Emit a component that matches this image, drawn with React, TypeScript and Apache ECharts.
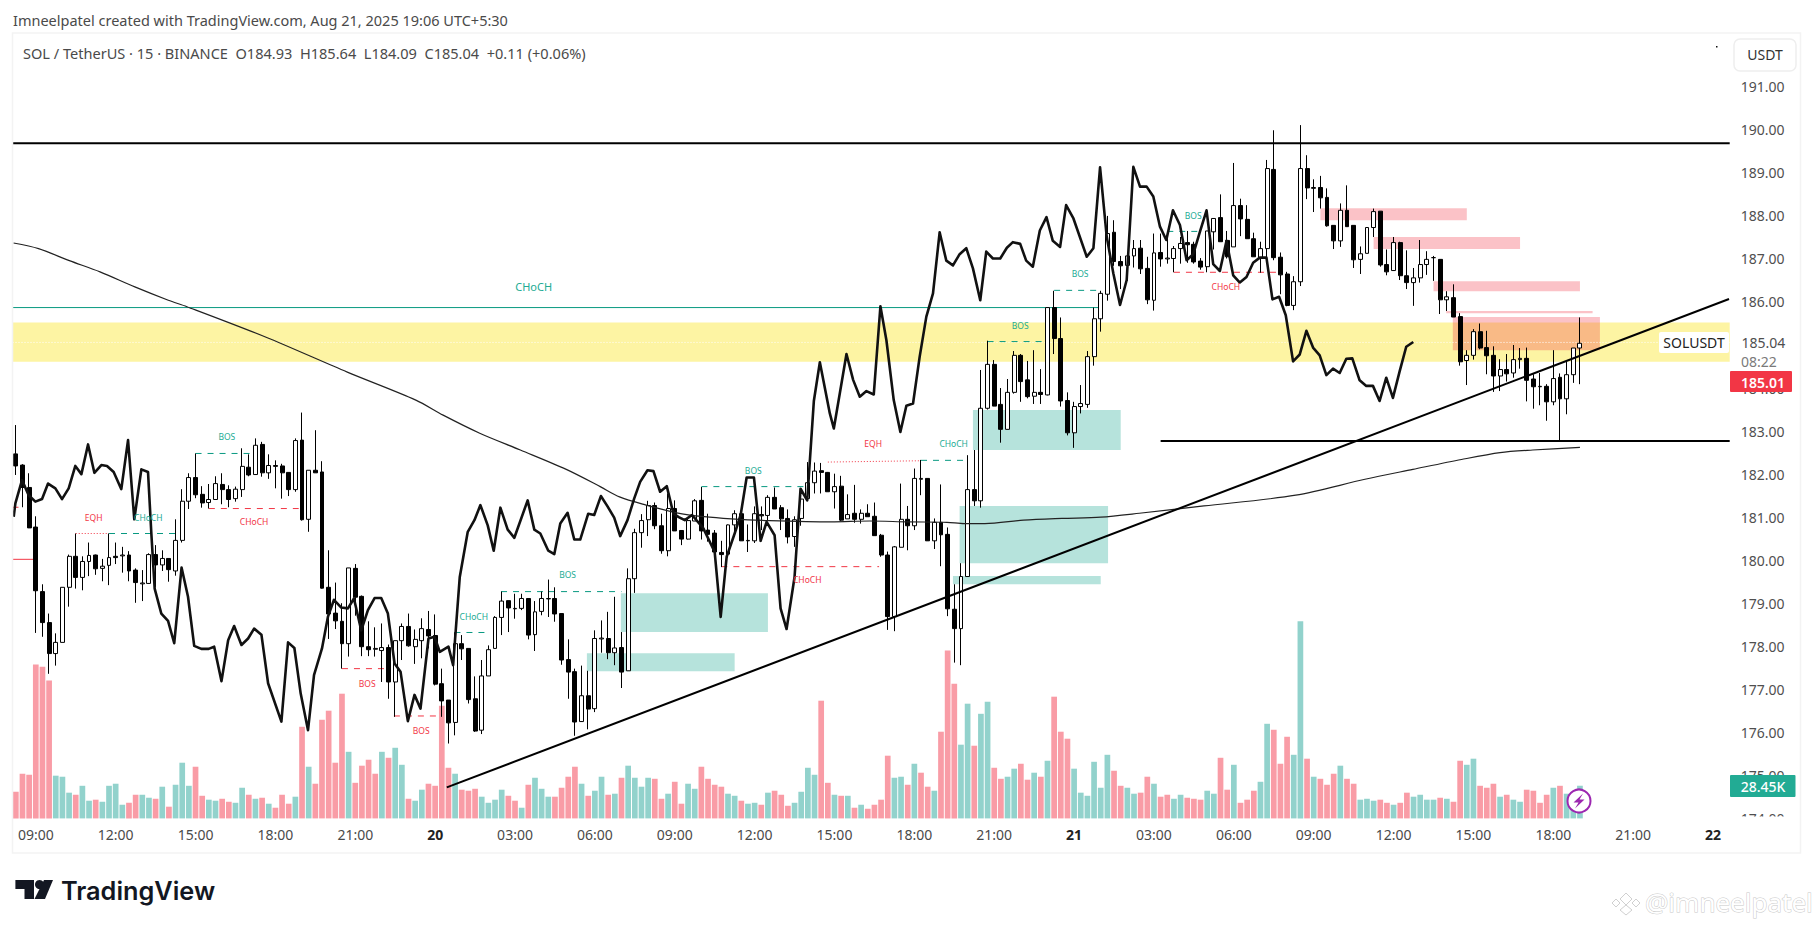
import React, { useEffect, useRef } from "react";
import * as echarts from "echarts";

const FONT = '"Noto Sans", sans-serif';
const GREEN = "#22ab94";
const RED = "#f23645";

// [open, close, low, high] for each 15 minute bar, the first one at 08:15 on the 19th
const ohlc: number[][] = [
[182.47,182.19,181.98,183.14],[182.21,181.69,181.23,182.23],[181.69,180.75,180.75,182.02],[180.77,179.29,178.31,181.02],[179.27,178.55,178.22,179.44],[178.55,177.83,177.36,178.76],[177.83,178.09,177.55,178.30],[178.09,179.37,178.09,179.37],[179.37,180.09,178.92,180.13],[180.09,179.60,179.34,180.62],
[179.60,179.97,179.30,180.09],[179.97,180.11,179.63,180.41],[180.12,179.80,179.66,180.13],[179.81,179.86,179.51,180.03],[179.88,180.06,179.42,180.62],[180.09,180.06,179.91,180.41],[180.10,180.12,179.71,180.31],[180.12,179.75,179.51,180.21],[179.77,179.48,179.01,179.81],[179.45,179.47,179.05,179.77],
[179.46,180.13,179.45,180.16],[180.13,179.89,179.38,180.35],[179.89,180.04,179.75,180.23],[180.04,179.78,179.50,180.04],[179.75,180.46,179.64,180.95],[180.46,181.37,180.41,181.65],[181.37,181.92,181.19,182.02],[181.92,181.52,181.44,182.48],[181.53,181.33,181.22,181.72],[181.34,181.41,181.20,181.77],
[181.41,181.78,181.41,181.95],[181.76,181.64,181.30,182.02],[181.64,181.41,181.23,181.74],[181.43,181.65,181.36,181.71],[181.64,182.18,181.47,182.60],[182.16,181.98,181.95,182.46],[181.99,182.67,181.98,182.83],[182.69,182.03,181.94,182.75],[182.03,182.20,181.89,182.46],[182.20,182.18,181.67,182.32],
[182.19,182.03,181.43,182.24],[182.04,181.64,181.49,182.04],[181.64,182.78,181.59,182.83],[182.79,180.94,180.92,183.43],[180.95,182.09,180.66,182.09],[182.09,182.03,182.03,183.02],[182.05,179.35,179.34,182.30],[179.37,178.75,178.17,180.23],[178.77,178.59,178.40,179.48],[178.58,178.06,177.48,179.00],
[178.06,179.82,177.76,179.82],[179.81,179.14,178.71,179.91],[179.16,177.99,177.77,179.18],[177.99,177.92,177.77,178.58],[177.93,177.95,177.76,178.44],[177.90,177.97,177.17,178.53],[177.97,177.17,176.78,178.04],[177.17,178.13,176.36,178.13],[178.13,178.46,177.68,178.53],[178.46,178.01,177.99,178.76],
[177.99,178.16,177.59,178.39],[178.13,178.41,177.72,178.65],[178.39,178.24,177.95,178.82],[178.25,177.12,177.09,178.74],[177.13,176.73,176.36,177.48],[176.75,176.22,175.74,176.75],[176.23,178.06,175.93,178.32],[178.06,177.94,177.68,178.26],[177.95,176.76,176.67,177.95],[176.78,176.03,176.01,177.30],
[176.05,177.31,175.96,177.68],[177.31,177.92,177.31,178.02],[177.95,178.67,177.95,178.70],[178.67,179.05,178.26,179.27],[179.06,178.89,178.33,179.06],[178.87,178.88,178.64,179.22],[178.88,179.11,178.84,179.22],[179.11,178.26,178.16,179.11],[178.27,178.80,177.89,179.05],[178.81,179.11,178.72,179.27],
[179.10,179.11,178.68,179.55],[179.11,178.75,178.57,179.37],[178.76,177.68,177.57,178.76],[177.69,177.40,176.78,178.16],[177.41,176.24,175.92,177.48],[176.25,176.85,176.24,177.55],[176.85,176.54,176.07,177.43],[176.55,178.18,176.47,178.37],[178.17,178.19,177.85,178.60],[178.18,177.85,177.70,178.80],
[177.85,177.96,177.56,179.15],[177.97,177.40,177.03,178.33],[177.43,179.57,177.43,179.81],[179.57,180.64,179.24,180.73],[180.64,180.92,180.29,181.07],[180.94,181.27,180.56,181.38],[181.27,180.80,180.72,181.34],[180.80,180.22,180.15,181.08],[180.22,181.20,180.09,181.55],[181.20,180.68,180.68,181.39],
[180.69,180.49,180.35,180.70],[180.49,180.92,180.48,180.99],[180.91,181.38,180.91,181.42],[181.39,180.68,180.48,181.70],[180.70,180.60,180.43,181.08],[180.63,180.19,180.09,180.70],[180.18,180.13,179.84,180.45],[180.14,180.82,180.06,180.83],[180.82,181.08,180.62,181.16],[181.08,180.45,180.45,181.28],
[180.45,180.46,180.19,180.83],[180.45,181.08,180.40,181.25],[181.06,181.03,180.70,181.25],[181.04,181.46,180.93,181.51],[181.46,181.19,181.19,181.69],[181.22,180.96,180.70,181.28],[180.97,180.54,180.39,181.18],[180.55,180.94,180.31,181.02],[180.97,181.42,180.80,181.66],[181.43,181.80,181.43,182.28],
[181.80,182.07,181.55,182.27],[182.08,182.04,181.55,182.26],[182.04,181.59,181.59,182.05],[181.59,181.71,181.20,182.01],[181.72,180.93,180.91,181.96],[180.96,181.06,180.96,181.53],[181.09,180.95,180.87,181.75],[180.95,181.09,180.85,181.18],[181.09,181.01,181.01,181.30],[181.02,180.57,180.57,181.34],
[180.58,180.12,180.08,180.61],[180.12,178.69,178.38,180.20],[178.69,180.31,178.35,180.33],[180.30,180.95,180.30,181.78],[180.95,180.80,180.23,181.26],[180.80,181.90,180.70,182.13],[181.88,181.90,181.51,182.33],[181.90,180.45,180.45,181.90],[180.45,180.88,180.26,180.97],[180.88,180.59,179.86,181.76],
[180.60,178.87,178.70,180.76],[178.86,178.41,177.62,179.44],[178.41,179.62,177.56,179.93],[179.62,181.64,179.62,182.44],[181.64,181.38,181.26,182.56],[181.38,183.53,181.22,184.42],[183.53,184.55,183.50,185.10],[184.55,183.58,183.58,184.65],[183.62,183.04,182.73,184.00],[183.04,183.90,183.04,184.21],
[183.90,184.76,183.87,184.86],[184.76,184.15,183.68,184.79],[184.19,183.80,183.76,184.63],[183.81,183.90,183.63,184.88],[183.90,183.85,183.63,184.44],[183.84,185.87,183.83,185.87],[185.87,185.15,184.79,186.26],[185.15,183.70,183.57,185.64],[183.71,182.96,182.90,183.90],[182.96,183.57,182.61,183.68],
[183.57,183.64,183.41,184.07],[183.62,184.73,183.54,184.86],[184.73,185.61,184.52,185.87],[185.61,186.20,185.31,186.26],[186.18,187.59,186.03,188.00],[187.62,186.94,186.84,187.90],[186.94,186.84,186.30,187.07],[186.85,187.07,186.49,187.11],[187.07,187.24,186.80,187.44],[187.25,186.77,186.65,187.44],
[186.78,186.05,185.95,187.05],[186.04,187.14,185.80,187.59],[187.15,187.00,186.82,187.59],[187.00,187.02,186.89,187.63],[187.01,187.24,186.69,187.30],[187.24,187.36,186.89,187.51],[187.38,187.33,186.91,187.65],[187.34,186.93,186.89,187.40],[186.95,186.81,186.75,187.02],[186.82,187.65,186.69,187.65],
[187.63,187.94,187.22,187.94],[187.96,187.40,187.40,188.50],[187.43,187.05,187.01,187.65],[187.28,188.24,187.28,189.23],[188.24,187.93,187.53,188.40],[187.92,187.47,187.47,188.25],[187.47,187.05,187.05,187.61],[187.03,187.24,186.68,187.40],[187.24,189.10,187.03,189.30],[189.08,187.03,186.97,189.99],
[187.04,186.63,186.18,187.15],[186.65,185.92,185.90,186.70],[185.92,186.47,185.81,186.60],[186.47,189.10,186.37,190.11],[189.10,188.65,188.39,189.41],[188.64,188.66,188.09,188.85],[188.66,188.42,188.17,188.93],[188.43,187.77,187.75,188.64],[187.78,187.42,187.23,187.78],[187.42,188.13,187.28,188.29],
[188.13,187.75,187.75,188.71],[187.78,186.98,186.79,187.78],[186.99,187.12,186.65,187.29],[187.13,187.73,187.13,187.73],[187.73,188.10,187.51,188.17],[188.11,186.86,186.82,188.11],[186.87,186.70,186.62,187.22],[186.73,187.38,186.72,187.51],[187.38,186.61,186.51,187.40],[186.61,186.45,186.30,187.20],
[186.45,186.56,185.91,186.79],[186.56,186.87,186.45,187.44],[186.87,186.99,186.63,187.18],[187.03,187.03,186.49,187.07],[186.99,186.05,185.72,186.99],[186.05,186.12,185.79,186.25],[186.10,185.65,185.65,186.41],[185.66,184.61,184.52,185.74],[184.64,184.76,184.07,184.88],[184.76,185.31,184.66,185.37],
[185.31,184.93,184.90,185.50],[184.94,184.75,184.32,185.33],[184.76,184.28,183.91,184.97],[184.28,184.43,183.93,184.67],[184.43,184.33,184.15,184.79],[184.35,184.66,184.24,185.00],[184.66,184.69,184.45,184.93],[184.69,184.18,183.69,184.94],[184.21,184.03,183.52,184.32],[184.03,184.04,183.60,184.35],
[184.04,183.68,183.24,184.09],[183.68,184.22,183.60,184.88],[184.25,183.75,182.79,184.34],[183.75,184.31,183.39,184.61],[184.31,184.93,184.12,184.93],[184.93,185.04,184.09,185.64],
];

// volume of each bar, in thousands
const volumes: number[] = [
23.2,38.9,38.0,134,132,120,37.2,36.3,22.4,20.6,
28.4,15.4,16.3,14.5,28.4,30.2,11.9,13.6,20.6,20.6,
18,17.1,27.6,10.2,29.3,48.5,28.4,45,19.7,16.3,
15.4,17.1,14.5,13.6,26.7,20.6,17.1,18,12.8,9.3,
20.6,12.8,18.9,79.8,45,30.2,85.9,93.8,48.5,108.6,
58,31,45.9,51.1,38.9,58,52.8,61.5,46.7,17.1,
15.4,25,30.2,28.4,98.1,44.1,38.9,25,24.1,25.8,
18.9,13.6,16.3,25,19.7,15.4,9.3,29.3,35.4,25.8,
18.9,18.9,26.7,36.3,45,30.2,19.7,24.1,36.3,20.6,
21.5,35.4,45.9,35.4,27.6,35.4,34.5,17.1,21.5,31.9,
12.8,30.2,25.8,45,34.5,29.3,27.6,21.5,19.7,15.4,
12.8,13.6,11.9,22.4,24.1,20.6,11,13.6,23.2,44.1,
38,102.5,31,20.6,19.7,19.7,9.3,11.9,8.4,11.9,
16.3,54.6,35.4,36.3,29.3,47.6,39.8,27.6,24.1,75.5,
146.3,117.3,64.2,99.9,63.3,91.1,101.6,44.1,34.5,36.3,
43.3,47.6,33.7,39.8,36.3,50.2,106,75.5,69.4,43.3,
22.4,19.7,49.3,26.7,55.4,41.5,28.4,26.7,21.5,22.4,
36.3,30.2,18.9,20.6,17.1,20.6,18,17.1,16.3,24.1,
21.5,52.8,25,46.7,13.6,16.3,24.1,31.9,82.4,77.2,
47.6,71.1,55.4,171.6,52,36.3,34.5,29.3,38.9,45.9,
34.5,30.2,16.3,17.1,15.4,16.3,13.6,11.9,13.6,22.4,
18.9,20.6,16.3,16.3,18,17.1,14.5,50.2,46.7,52,
28.4,26.7,30.2,18.9,20.6,16.3,14.5,25,24.1,13.6,
20.6,26.7,28.4,21.5,19.7,28.45,
];

// u = rising volume bar, d = falling volume bar
const volumeSides =
  "dddddduuud" + "uuduuuuddu" + "ududuuuddu" + "udduududud" + "ddududdddd" +
  "udddduduud" + "uudddduddd" + "uuuudduduu" + "udddduduud" + "uduuuuddud" +
  "duudddduud" + "uududdduuu" + "uddudududd" + "dduududdud" + "dduuduuddu" +
  "uddududddu" + "uuuuudduud" + "dudduudddu" + "udduddduud" + "dduududddu" +
  "dduuuddudd" + "uuuududduu" + "ddduduuddd" + "duduuu";

// moving average: [bar index, price]
const movingAverage: number[][] = [
[-0.35,187.37],[3.41,187.24],[8.04,186.96],[12.65,186.70],[17.88,186.35],[22.91,186.04],[25.7,185.89],[37.6,185.18],[49.8,184.37],[60.1,183.72],[64.2,183.37],[69.7,182.95],[75.8,182.56],[82.7,182.11],[87.8,181.71],[90.7,181.47],[94.7,181.28],[99.3,181.10],[103.4,181.01],[107.5,180.96],[113.2,180.92],[122.5,180.89],[128.3,180.91],[134,180.89],[139.9,180.88],[142.5,180.85],[145.6,180.85],[151.4,180.93],[157.2,180.97],[163,181.00],[168.8,181.09],[178.5,181.26],[192.3,181.51],[202.7,181.88],[209.9,182.11],[217.2,182.34],[223,182.50],[227.9,182.56],[235,182.62],
];

// heavy overlaid line: [bar index, price]
const overlayLine: number[][] = [
[-0.32,181.01],[-0.07,181.32],[0.93,181.86],[1.93,181.51],[2.94,181.36],[3.94,181.42],[4.84,181.78],[5.94,181.67],[6.94,181.42],[7.94,181.67],[8.94,182.19],[9.85,182.00],[10.85,182.69],[11.8,182.03],[12.85,182.21],[13.7,182.19],[14.7,182.05],[15.85,181.65],[16.86,182.79],[17.8,180.95],[18.86,182.11],[19.86,182.05],[20.36,180.62],[20.86,179.34],[21.86,178.76],[22.87,178.59],[23.8,178.07],[24.9,179.83],[25.87,179.15],[26.8,178.01],[27.87,177.94],[28.97,177.94],[29.8,177.99],[30.9,177.19],[31.9,178.14],[32.8,178.47],[33.9,178.03],[34.9,178.18],[35.8,178.41],[36.9,178.27],[37.9,177.14],[39.9,176.25],[40.9,178.09],[41.85,177.96],[42.8,176.90],[43.9,176.05],[44.8,177.33],[46,177.95],[46.9,178.69],[47.8,179.08],[48.9,178.90],[49.9,178.88],[50.8,179.11],[51.9,178.37],[52.9,178.84],[53.9,179.12],[54.9,179.12],[55.9,178.76],[56.9,177.60],[57.8,177.41],[58.9,176.26],[59.9,176.87],[60.8,176.55],
[62,178.18],[62.9,178.22],[63.7,177.87],[65,177.99],[65.7,177.56],[66.7,179.61],[67.9,180.66],[68.9,180.93],[69.8,181.28],[70.9,180.81],[71.8,180.22],[72.8,181.22],[73.9,180.71],[74.9,180.52],[76.9,181.39],[77.9,180.71],[78.8,180.62],[80,180.22],[80.9,180.14],[81.8,180.85],[82.9,181.10],[83.9,180.48],[84.8,180.48],[86,181.08],[86.9,181.05],[87.9,181.49],[88.9,181.25],[89.9,180.99],[90.8,180.56],[91.9,180.93],[92.9,181.43],[93.8,181.82],[94.9,182.09],[95.8,182.07],[96.8,181.59],[97.8,181.72],[98.8,181.08],[99.6,181.00],[100.5,180.93],[101.6,181.05],[103.3,180.74],[105,180.19],[105.9,178.68],[106.8,180.08],[108,180.62],[108.9,181.05],[109.8,181.92],[110.9,181.92],[111.9,180.45],[112.8,180.89],[114,180.58],[114.9,178.88],[115.8,178.40],[117,179.61],[117.9,181.66],[118.9,181.39],[119.9,183.70],[120.8,184.60],
[122.3,183.41],[122.9,183.06],[123.8,183.88],[124.8,184.79],[125.8,184.19],[126.8,183.80],[127.8,183.93],[128.9,183.85],[129.9,185.90],[130.8,185.11],[131.9,183.72],[132.9,182.98],[133.8,183.59],[134.8,183.64],[135.8,184.73],[136.8,185.66],[137.8,186.20],[138.8,187.62],[139.8,186.96],[140.8,186.85],[141.8,187.11],[142.8,187.25],[143.8,186.78],[144.9,186.04],[145.8,187.17],[146.8,187.01],[147.9,187.01],[148.9,187.26],[149.8,187.39],[150.9,187.35],[151.8,186.96],[152.8,186.82],[153.85,187.66],[154.85,187.97],[155.8,187.42],[156.9,187.28],[157.8,188.25],[158.9,187.94],[160.9,187.05],[161.9,187.25],[162.9,189.13],[163.9,187.52],[164.9,186.66],[165.9,185.93],[166.9,186.51],[167.9,189.14],[168.9,188.68],[169.9,188.68],[170.9,188.45],
[171.9,187.75],[172.85,187.44],[173.85,188.13],[174.9,187.79],[175.9,186.97],[176.9,187.11],[177.9,187.63],[178.9,188.13],[179.9,186.88],[180.9,186.72],[181.9,187.42],[182.9,186.62],[183.9,186.45],[184.9,186.58],[185.9,186.91],[186.9,187.03],[187.9,187.03],[188.8,186.06],[189.8,186.12],[190.8,185.69],[191.9,184.62],[192.9,184.78],[193.9,185.33],[194.9,184.94],[195.9,184.76],[196.9,184.30],[197.9,184.45],[198.9,184.35],[199.9,184.68],[200.8,184.69],[201.9,184.18],[202.9,184.05],[203.9,184.05],[204.9,183.70],[205.9,184.24],[206.9,183.77],[207.9,184.38],[208.9,184.96],[209.96,185.07],
];

// zones: [from bar, to bar, upper price, lower price]
const yellowZones: number[][] = [[-0.5, 257.5, 185.525, 184.61]];
const tealZones: number[][] = [
  [143.8, 166.0, 183.49, 182.56], [141.8, 164.1, 181.26, 179.93], [140.8, 163.0, 179.63, 179.44],
  [90.9, 113.0, 179.23, 178.33], [85.8, 108.0, 177.84, 177.42],
];
const pinkZones: number[][] = [
  [196.0, 218.0, 188.18, 187.90], [204.0, 226.0, 187.51, 187.23], [213.0, 235.0, 186.48, 186.25],
  [214.9, 236.9, 185.79, 185.74], [215.9, 238.0, 185.65, 184.88],
];

// drawn lines: [from bar, from price, to bar, to price]
const heavyLines: number[][] = [
  [-0.5, 189.69, 257.5, 189.69], [172.0, 182.77, 257.5, 182.77], [64.75, 174.72, 257.4, 186.07],
];
const greenThinLines: number[][] = [[-0.5, 185.87, 163.0, 185.87]];
const redThinLines: number[][] = [[-0.5, 180.02, 3.0, 180.02]];
const greenDashed: number[][] = [
  [27, 182.48, 36, 182.48], [14, 180.62, 24.5, 180.62], [65.9, 178.32, 71, 178.32], [72.9, 179.27, 91, 179.27],
  [103, 181.71, 118.9, 181.71], [136, 182.32, 143, 182.32], [146, 185.08, 154.6, 185.08], [156, 186.27, 163, 186.27], [173, 187.64, 178, 187.64],
];
const redDashed: number[][] = [
  [29, 181.20, 42.5, 181.20], [-0.5, 181.23, 1, 181.23], [49, 177.48, 56, 177.48], [56.8, 176.38, 63.9, 176.38],
  [106, 179.85, 129.7, 179.85], [174, 186.69, 189.5, 186.69],
];
const redDotted: number[][] = [[9, 180.62, 14, 180.62], [122, 182.28, 135.8, 182.31]];
const closeLine: number[][] = [[-0.5, 185.06, 257.5, 185.06]];

// labels of the structure marks
const markTexts = ["BOS","CHoCH","EQH","CHoCH","BOS","BOS","CHoCH","BOS","BOS","CHoCH","EQH","CHoCH","BOS","BOS","BOS","CHoCH","CHoCH"];
const markPlaces: number[][] = [
  [31.7,182.87],[19.9,180.99],[11.7,180.99],[35.8,180.89],[52.8,177.14],[60.9,176.05],[68.8,178.69],[82.9,179.66],[110.8,182.09],[118.9,179.54],[128.8,182.70],[140.9,182.70],[150.9,185.46],[159.9,186.65],[176.9,188.02],[181.8,186.35],[77.8,186.35],
];
const markIsRed = [0,0,1,1,1,1,0,0,0,1,1,0,0,0,0,1,0];

const BAR_COUNT = 258;
const START_MINUTES = 8 * 60 + 15;
const FIRST_DAY = 19;
const categories: string[] = Array.from({ length: BAR_COUNT }, (_, i) => {
  const total = START_MINUTES + i * 15;
  const hour = Math.floor(total / 60) % 24;
  const minute = total % 60;
  if (hour === 0 && minute === 0) return String(FIRST_DAY + Math.floor(total / 1440));
  return `${String(hour).padStart(2, "0")}:${String(minute).padStart(2, "0")}`;
});

const headerLine = "Imneelpatel created with TradingView.com, Aug 21, 2025 19:06 UTC+5:30";
const legendLine = "SOL / TetherUS · 15 · BINANCE  O184.93  H185.64  L184.09  C185.04  +0.11 (+0.06%)";

const zoneSeries = (data: number[][], color: string, z: number) => ({
  type: "custom",
  coordinateSystem: "cartesian2d",
  xAxisIndex: 1,
  yAxisIndex: 0,
  z,
  silent: true,
  clip: true,
  itemStyle: { color },
  encode: { x: [0, 1], y: [2, 3] },
  data,
  renderItem: (_: any, api: any) => {
    const a = api.coord([api.value(0), api.value(2)]);
    const b = api.coord([api.value(1), api.value(3)]);
    return {
      type: "rect",
      shape: { x: a[0], y: a[1], width: b[0] - a[0], height: b[1] - a[1] },
      style: { fill: color },
    };
  },
});

const segmentSeries = (data: number[][], stroke: string, lineWidth: number, lineDash: number[] | null, z: number) => ({
  type: "custom",
  coordinateSystem: "cartesian2d",
  xAxisIndex: 1,
  yAxisIndex: 0,
  z,
  silent: true,
  clip: true,
  encode: { x: [0, 2], y: [1, 3] },
  data,
  renderItem: (_: any, api: any) => {
    const a = api.coord([api.value(0), api.value(1)]);
    const b = api.coord([api.value(2), api.value(3)]);
    return {
      type: "line",
      shape: { x1: a[0], y1: a[1], x2: b[0], y2: b[1] },
      style: { stroke, lineWidth, lineDash: lineDash || undefined, fill: null },
    };
  },
});

const tx = (text: string, x: number, y: number, size: number, fill: string, extra: any = {}) => ({
  type: "text",
  z: 100,
  silent: true,
  x,
  y,
  style: { text, fill, font: `${extra.weight || 400} ${size}px ${extra.family || FONT}`, align: extra.align || "left", verticalAlign: "middle", stroke: extra.stroke, lineWidth: extra.lineWidth },
});
const box = (x: number, y: number, width: number, height: number, fill: string, stroke?: string, r = 0, z = 100) => ({
  type: "rect",
  z,
  silent: true,
  shape: { x, y, width, height, r },
  style: { fill, stroke, lineWidth: stroke ? 1.5 : 0 },
});
const poly = (points: number[][], fill: string, stroke?: string) => ({
  type: "polygon",
  z: 100,
  silent: true,
  shape: { points },
  style: { fill, stroke, lineWidth: stroke ? 1 : 0 },
});

export default function App() {
  const ref = useRef<HTMLDivElement>(null);
  useEffect(() => {
    document.body.style.margin = "0";
    document.body.style.background = "#fff";
    document.body.style.overflow = "hidden";
    const chart = echarts.init(ref.current!, null, { renderer: "svg" });
    chart.setOption({
      animation: false,
      backgroundColor: "#ffffff",
      grid: { left: 12.5, top: 33, width: 1717.2, height: 785.4, containLabel: false },
      xAxis: [
        {
          type: "category",
          data: categories,
          boundaryGap: true,
          axisLine: { show: false },
          axisTick: { show: false },
          splitLine: { show: false },
          axisLabel: {
            interval: (i: number) => (i - 3) % 12 === 0,
            hideOverlap: false,
            margin: 9,
            color: "#4a4a4a",
            fontFamily: FONT,
            fontSize: 14,
            formatter: (v: string) => (v.includes(":") ? v : `{d|${v}}`),
            rich: { d: { fontWeight: 700, fontFamily: FONT, fontSize: 14, color: "#222" } },
          },
        },
        { type: "value", min: -0.5, max: 257.5, show: false },
      ],
      yAxis: [
        {
          type: "value",
          position: "right",
          min: 174,
          max: 192.25,
          interval: 1,
          scale: true,
          axisLine: { show: false },
          axisTick: { show: false },
          splitLine: { show: false },
          axisLabel: {
            margin: 11,
            color: "#4f4f4f",
            fontFamily: FONT,
            fontSize: 14,
            padding: [0, 0, 3, 0],
            showMinLabel: true,
            showMaxLabel: false,
            formatter: (v: number) => (Number.isInteger(v) && v !== 192 && v !== 185 ? v.toFixed(2) : ""),
          },
        },
        { type: "value", min: 0, max: 684, show: false },
      ],
      series: [
        zoneSeries(yellowZones, "#fdf4a3", 1),
        zoneSeries(tealZones, "rgba(34,171,148,0.33)", 1.1),
        zoneSeries(pinkZones, "rgba(242,54,69,0.3)", 1.2),
        segmentSeries(closeLine, "#ffffff", 1, [1, 2], 1.3),
        {
          type: "bar",
          xAxisIndex: 0,
          yAxisIndex: 1,
          barWidth: 5.7,
          z: 1.4,
          silent: true,
          data: volumes.map((value, i) => ({
            value,
            itemStyle: { color: volumeSides[i] === "u" ? "#92d2cc" : "#f99ca6" },
          })),
        },
        segmentSeries(greenThinLines, "#089981", 1, null, 2),
        segmentSeries(redThinLines, RED, 1, null, 2),
        segmentSeries(greenDashed, "#089981", 1, [6, 6], 2),
        segmentSeries(redDashed, RED, 1, [6, 6], 2),
        segmentSeries(redDotted, RED, 1, [1, 2], 2),
        {
          type: "candlestick",
          xAxisIndex: 0,
          yAxisIndex: 0,
          barWidth: 4.4,
          z: 3,
          silent: true,
          itemStyle: { color: "#ffffff", color0: "#000000", borderColor: "#000000", borderColor0: "#000000", borderColorDoji: "#000000", borderWidth: 1 },
          data: ohlc,
        },
        {
          type: "line",
          xAxisIndex: 1,
          yAxisIndex: 0,
          z: 4,
          silent: true,
          symbol: "none",
          smooth: 0.3,
          lineStyle: { color: "#222222", width: 1.2 },
          data: movingAverage,
        },
        {
          type: "line",
          xAxisIndex: 1,
          yAxisIndex: 0,
          z: 5,
          silent: true,
          symbol: "none",
          lineStyle: { color: "#111111", width: 2.6, join: "round" },
          data: overlayLine,
        },
        segmentSeries(heavyLines, "#000000", 2, null, 6),
        {
          type: "custom",
          coordinateSystem: "cartesian2d",
          xAxisIndex: 1,
          yAxisIndex: 0,
          z: 7,
          silent: true,
          encode: { x: 0, y: 1 },
          data: markPlaces,
          renderItem: (p: any, api: any) => {
            const c = api.coord([api.value(0), api.value(1)]);
            const last = p.dataIndex === markTexts.length - 1;
            return {
              type: "text",
              x: c[0],
              y: c[1],
              style: {
                text: markTexts[p.dataIndex],
                fill: markIsRed[p.dataIndex] ? RED : GREEN,
                font: `400 ${last ? 11 : 8.5}px ${FONT}`,
                align: "center",
                verticalAlign: "middle",
              },
            };
          },
        },
      ],
      graphic: {
        elements: [
          box(1731, 816.5, 68, 35, "#ffffff"),
          box(12.5, 33, 1788, 820, "transparent", "#f3f3f3", 0, 101),
          tx(headerLine, 13, 20, 14.5, "#4a4a4a"),
          tx(legendLine, 23, 53, 14.55, "#4a4a4a"),
          box(1734, 39, 62, 32, "#ffffff", "#eeeeee", 6),
          tx("USDT", 1765, 54, 14, "#333333", { align: "center" }),
          box(1659, 332, 70, 21, "#ffffff", undefined, 2),
          tx("SOLUSDT", 1694, 342.5, 14, "#222222", { align: "center" }),
          box(1716, 46, 1.5, 1.5, "#111111"),
          tx("185.04", 1741.5, 342.5, 14, "#4f4f4f"),
          tx("08:22", 1741, 361, 14, "#7a7a7a"),
          box(1730, 371, 62, 21, RED, undefined, 1),
          tx("185.01", 1763, 382, 14, "#ffffff", { align: "center", weight: 600 }),
          box(1730, 775, 65.5, 22, GREEN, undefined, 1),
          tx("28.45K", 1763, 786, 14, "#ffffff", { align: "center", weight: 500 }),
          {
            type: "circle",
            z: 100,
            silent: true,
            shape: { cx: 1579, cy: 801, r: 11.5 },
            style: { fill: "#ffffff", stroke: "#9c27b0", lineWidth: 2 },
          },
          poly([[1583, 793.5], [1573.5, 802.5], [1578.5, 802.5], [1575, 808.5], [1584.5, 799.5], [1579.5, 799.5]], "#9c27b0"),
          poly([[15.4, 880], [34, 880], [34, 899], [24.5, 899], [24.5, 889], [15.4, 889]], "#131722"),
          { type: "circle", z: 100, silent: true, shape: { cx: 39.5, cy: 884.5, r: 4.5 }, style: { fill: "#131722" } },
          poly([[44, 880], [53, 880], [45, 899], [34.5, 899]], "#131722"),
          tx("TradingView", 61, 890, 25.3, "#131722", { weight: 600, family: '"Inter", sans-serif' }),
          poly([[1626, 893], [1632, 899], [1626, 905], [1620, 899]], "#ffffff", "#d0d0d0"),
          poly([[1616, 899], [1620, 903], [1616, 907], [1612, 903]], "#ffffff", "#d0d0d0"),
          poly([[1636, 899], [1640, 903], [1636, 907], [1632, 903]], "#ffffff", "#d0d0d0"),
          poly([[1626, 905], [1632, 910], [1626, 915], [1620, 910]], "#ffffff", "#d0d0d0"),
          tx("@imneelpatel", 1645, 902, 26, "#ffffff", { stroke: "#c8c8c8", lineWidth: 1 }),
        ],
      },
    });
    return () => chart.dispose();
  }, []);
  return <div ref={ref} style={{ position: "absolute", left: 0, top: 0, width: 1814, height: 928 }} />;
}
